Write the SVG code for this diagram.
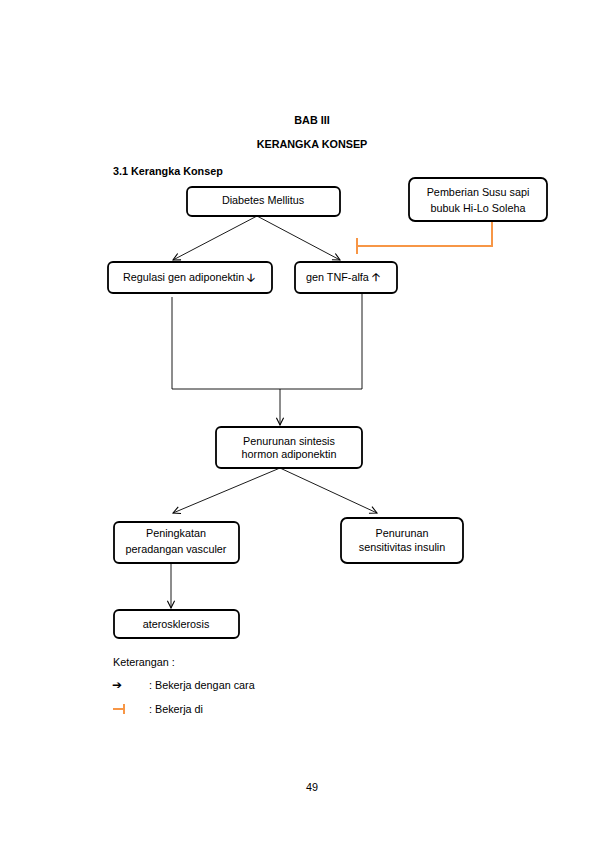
<svg xmlns="http://www.w3.org/2000/svg" width="595" height="842" viewBox="0 0 595 842">
<style>
text{font-family:"Liberation Sans",Arial,sans-serif;font-size:10.8px;fill:#000}
.h{font-weight:bold;font-size:10.8px}
.c{text-anchor:middle}
.box{fill:#fff;stroke:#000;stroke-width:1.8}
.ln{fill:none;stroke:#000;stroke-width:0.9}
.or{fill:none;stroke:#F79646;stroke-width:2}
.sym{font-family:"DejaVu Sans",sans-serif;font-weight:bold;font-size:11px}
</style>
<defs>
<marker id="arr" viewBox="0 0 10 10" refX="9" refY="5" markerWidth="9" markerHeight="9" markerUnits="userSpaceOnUse" orient="auto">
<path d="M1,1 L9,5 L1,9" fill="none" stroke="#000" stroke-width="1.2"/>
</marker>
</defs>
<rect width="595" height="842" fill="#fff"/>
<text class="h c" x="312" y="124">BAB III</text>
<text class="h c" x="312" y="148">KERANGKA KONSEP</text>
<text class="h" x="113" y="175">3.1 Kerangka Konsep</text>

<g id="connectors">
<line class="ln" x1="257" y1="216" x2="173" y2="260" marker-end="url(#arr)"/>
<line class="ln" x1="257" y1="216" x2="340" y2="260" marker-end="url(#arr)"/>
<polyline class="ln" points="172,297 172,389 362,389 362,293"/>
<line class="ln" x1="280" y1="389" x2="280" y2="425" marker-end="url(#arr)"/>
<line class="ln" x1="280" y1="468" x2="173" y2="513" marker-end="url(#arr)"/>
<line class="ln" x1="280" y1="468" x2="377" y2="513" marker-end="url(#arr)"/>
<line class="ln" x1="171" y1="563" x2="171" y2="608" marker-end="url(#arr)"/>
<polyline class="or" points="492,221 492,246 357,246"/>
<line class="or" x1="357" y1="238" x2="357" y2="254"/>
</g>

<g id="n-dm"><rect class="box" x="187" y="187" width="153" height="29" rx="5"/><text class="c" x="263" y="204">Diabetes Mellitus</text></g>
<g id="n-susu"><rect class="box" x="409" y="178" width="138" height="43" rx="6"/><text class="c" x="478" y="196">Pemberian Susu sapi</text><text class="c" x="478" y="212">bubuk Hi-Lo Soleha</text></g>
<g id="n-reg"><rect class="box" x="108" y="262" width="164" height="31" rx="5"/><text x="123" y="281">Regulasi gen adiponektin <tspan class="sym">🡣</tspan></text></g>
<g id="n-tnf"><rect class="box" x="295" y="262" width="102" height="31" rx="5"/><text x="306" y="281">gen TNF-alfa <tspan class="sym">🡡</tspan></text></g>
<g id="n-pen"><rect class="box" x="216" y="427" width="146" height="41" rx="5"/><text class="c" x="289" y="445">Penurunan sintesis</text><text class="c" x="289" y="458">hormon adiponektin</text></g>
<g id="n-pening"><rect class="box" x="114" y="522" width="125" height="41" rx="5"/><text class="c" x="176" y="537">Peningkatan</text><text class="c" x="176" y="553">peradangan vasculer</text></g>
<g id="n-sens"><rect class="box" x="341" y="518" width="122" height="45" rx="6"/><text class="c" x="402" y="537">Penurunan</text><text class="c" x="402" y="551">sensitivitas insulin</text></g>
<g id="n-ater"><rect class="box" x="114" y="610" width="125" height="28" rx="5"/><text class="c" x="176" y="628">aterosklerosis</text></g>

<g id="legend">
<text x="113" y="666">Keterangan :</text>
<text class="sym" x="112" y="689" style="font-size:12px">➔</text>
<text x="149" y="689">: Bekerja dengan cara</text>
<polyline class="or" points="113,709 124,709"/>
<line class="or" x1="124" y1="704" x2="124" y2="714"/>
<text x="149" y="713">: Bekerja di</text>
</g>
<text class="c" x="312" y="791">49</text>
</svg>
